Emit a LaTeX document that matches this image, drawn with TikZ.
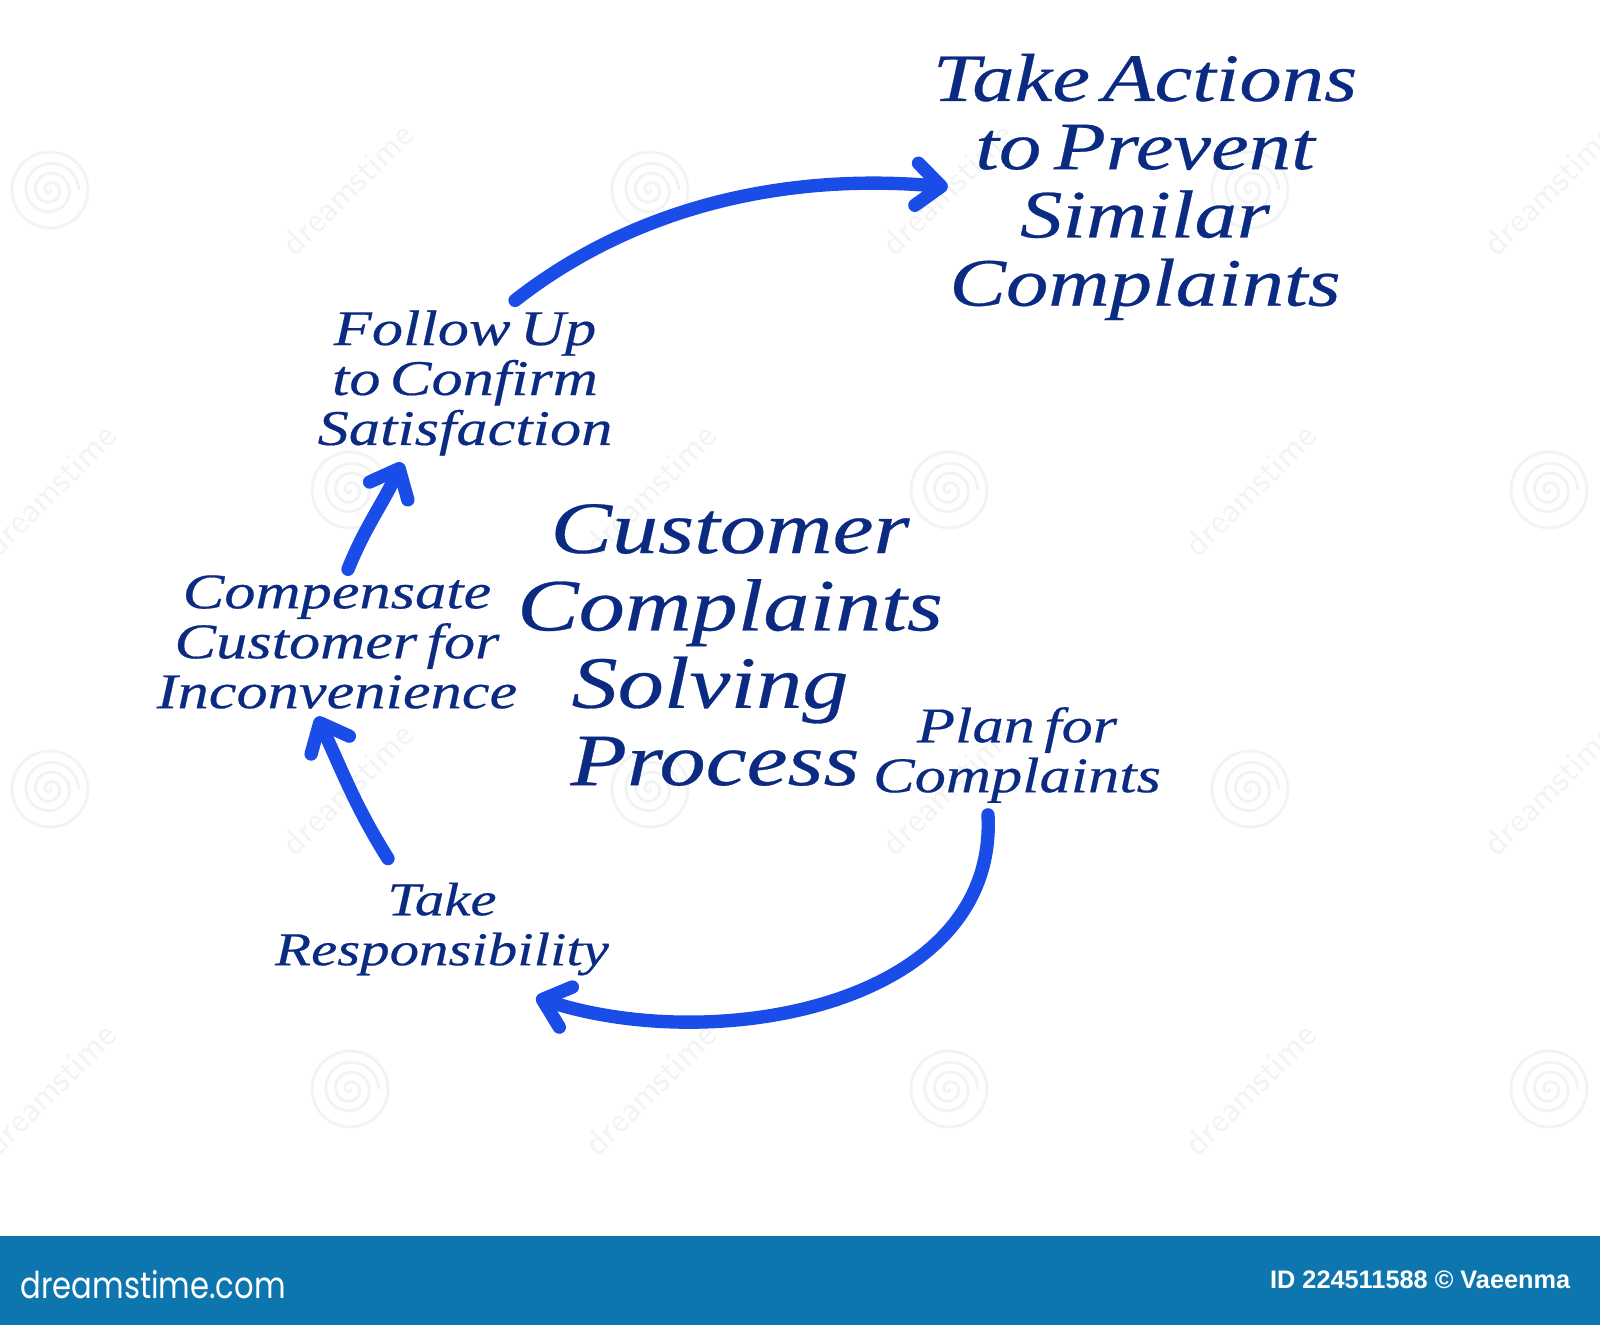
\documentclass[tikz,border=0pt]{standalone}
\usepackage{fontspec}
\usetikzlibrary{arrows.meta}
\newfontfamily\handfont[FakeStretch=1.25, FakeBold=0.4, WordSpace=0.6]{Liberation Serif}
\newfontfamily\logofont[FakeStretch=0.83]{Poppins}
\newfontfamily\idfont{Liberation Sans}
\definecolor{inkblue}{HTML}{0B2A82}
\definecolor{flowblue}{HTML}{1A4DE8}
\definecolor{barblue}{HTML}{0E76AE}
\definecolor{markgray}{HTML}{F1F3F4}
\tikzset{
  hand/.style={inkblue, align=center, inner sep=0pt, outer sep=0pt},
  bighand/.style={hand, font=\handfont\itshape\fontsize{21}{22}\selectfont},
  tophand/.style={hand, font=\handfont\itshape\fontsize{19.3}{19.4}\selectfont},
  smallhand/.style={hand, font=\handfont\itshape\fontsize{14.2}{14.2}\selectfont},
  lowhand/.style={hand, font=\handfont\itshape\fontsize{13.4}{14.2}\selectfont},
  flow/.style={draw=flowblue, line width=3.8pt, line cap=round,
    -{Straight Barb[round, length=7pt, width=12pt]}},
  wmark/.style={markgray, line width=0.8pt},
  wtext/.style={markgray, rotate=45, font=\sffamily\fontsize{10}{10}\selectfont}
}

\begin{document}
\begin{tikzpicture}[x=0.01cm, y=-0.01cm]
\useasboundingbox (0,0) rectangle (1600,1325);

% watermark
\foreach \wx/\wy in {50/190, 650/190, 1250/190, 350/490, 949/490, 1549/490,
  50/789, 650/789, 1250/789, 350/1089, 949/1089, 1549/1089} {
  \draw[wmark] (\wx,\wy) circle (38);
  \draw[wmark] plot[smooth, domain=0:1080, samples=50] ({\wx+\x/1080*29*cos(\x)},{\wy+\x/1080*29*sin(\x)});
}
\foreach \wx/\wy [count=\wi] in {347/189, 947/189, 1549/189, 50/490, 650/490, 1250/490,
  347/789, 947/789, 1549/789, 50/1089, 650/1089, 1250/1089}
  \node[wtext] (wm\wi) at (\wx,\wy) {dreamstime};

% labels
\node[bighand] (title) at (730,645) {Customer\\Complaints\\Solving\kern0.4cm\\Process\kern0.3cm};
\node[tophand] (prevent) at (1145,187) {Take Actions\\to Prevent\\Similar\\Complaints};
\node[smallhand] (follow) at (465,383) {Follow Up\\to Confirm\\Satisfaction};
\node[smallhand] (compensate) at (337,642) {Compensate\\Customer for\\Inconvenience};
\node[smallhand] (plan) at (1017,755) {Plan for\\Complaints};
\node[lowhand] (take) at (442,929) {Take\\Responsibility};

% arrows
\path[]
([xshift=-0.29cm, yshift=-0.12cm]plan.south) edge[flow, out=-87, in=-18, looseness=1] ([xshift=0.94cm, yshift=-0.22cm]take.south)
([xshift=-0.54cm, yshift=0.24cm]take.north) edge[flow, out=122, in=-65] ([xshift=-0.2cm, yshift=-0.08cm]compensate.south)
([xshift=0.11cm, yshift=0.06cm]compensate.north) edge[flow, out=68, in=-115] ([xshift=-0.63cm, yshift=-0.07cm]follow.south)
([xshift=0.5cm, yshift=0.1cm]follow.north) edge[flow, out=38, in=175, looseness=0.9] ([xshift=0.15cm]prevent.west)
;

% footer
\fill[barblue] (0,1236) rectangle (1600,1325);
\node[white, anchor=base west, inner sep=0pt, font=\logofont\fontsize{10.5}{10.5}\selectfont] (logo) at (20,1298) {dreamstime.com};
\node[white, anchor=base east, inner sep=0pt, font=\idfont\bfseries\fontsize{7.2}{7.2}\selectfont] (credit) at (1571,1288) {ID 224511588 © Vaeenma};
\end{tikzpicture}
\end{document}
